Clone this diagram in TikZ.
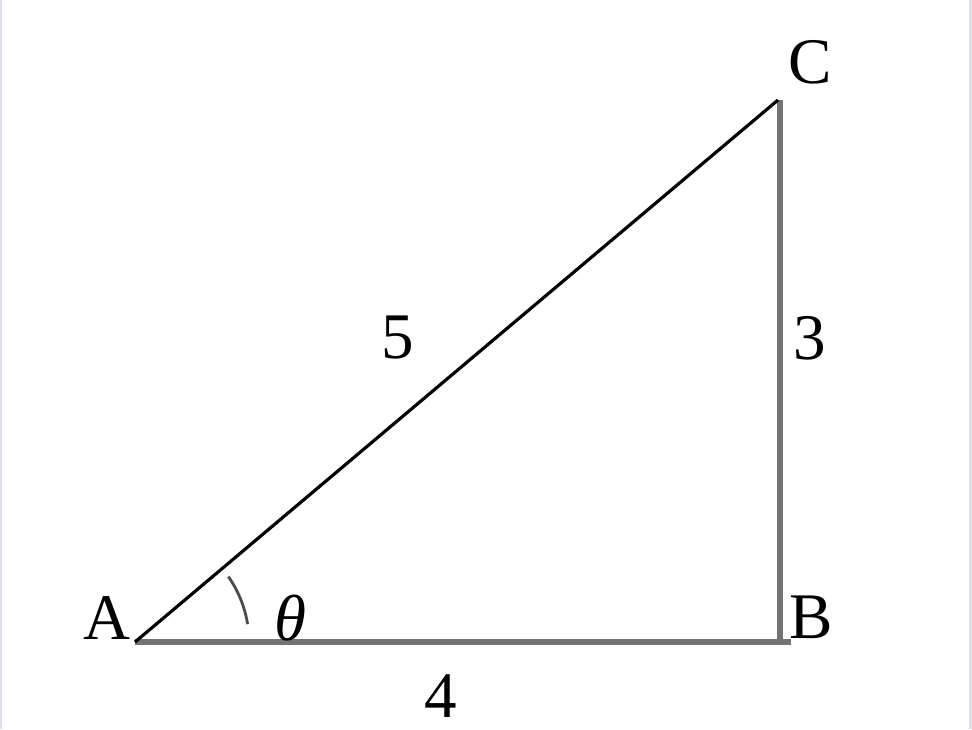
\documentclass[tikz,border=0pt]{standalone}
\usepackage{fontspec}
\setmainfont{Liberation Serif}
\begin{document}
\begin{tikzpicture}[x=0.01cm,y=-0.01cm,
  lbl/.style={font=\fontsize{18.5}{22}\selectfont, inner sep=0pt},
  leg/.style={draw=black!55, line width=1.5pt},
  hyp/.style={draw=black, line width=0.9pt},
  frame/.style={draw=blue!25!black!12, line width=0.6pt}]
\useasboundingbox (0,0) rectangle (972,729);
\draw[frame] (1,0) -- (1,729);
\draw[frame] (970.5,0) -- (970.5,729);
\coordinate (A) at (135,642);
\coordinate (B) at (791,642);
\coordinate (Bt) at (780,642);
\coordinate (C) at (780,100);
\draw[leg] (A) -- (B);
\draw[leg] (Bt) -- (C);
\draw[hyp] (A) -- (778,100);
\draw[draw=black!70, line width=0.8pt] (A) ++(-9:114) arc[start angle=-9, end angle=-35, radius=114];
\node[lbl] (lA) at (107,618) {A};
\node[lbl] (lB) at (811,617) {B};
\node[lbl] (lC) at (810,62) {C};
\node[lbl] (lth) at (290,618) {\textit{θ}};
\node[lbl] (l5) at (398,338) {5};
\node[lbl] (l3) at (810,338) {3};
\node[lbl] (l4) at (441,696) {4};
\end{tikzpicture}
\end{document}
